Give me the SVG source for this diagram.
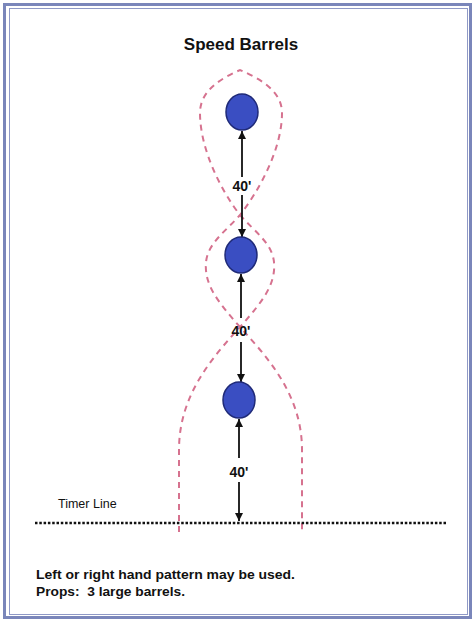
<svg xmlns="http://www.w3.org/2000/svg" width="474" height="621" viewBox="0 0 474 621">
  <style>
    .barrel { fill: #3a4ec2; stroke: #1f2a78; stroke-width: 1.5; }
    .arrow { stroke: #111; stroke-width: 1.8; fill: none; }
    .pattern { stroke: #d6728f; stroke-width: 2; fill: none; stroke-dasharray: 6 5; }
    .lbl { font-family: "Liberation Sans", Arial, sans-serif; font-weight: bold; font-size: 14px; fill: #111; text-anchor: middle; }
    .note { font-family: "Liberation Sans", Arial, sans-serif; font-weight: bold; font-size: 13px; fill: #111; }
  </style>
  <defs>
    <marker id="ah" markerWidth="8" markerHeight="8" refX="8" refY="4" orient="auto-start-reverse" markerUnits="userSpaceOnUse">
      <path d="M0,0 L8,4 L0,8 z" fill="#111"/>
    </marker>
  </defs>
  <rect width="474" height="621" fill="#ffffff"/>
  <g id="frame">
    <rect x="4.5" y="4.5" width="466" height="613" fill="none" stroke="#7a86ba" stroke-width="3"/>
    <rect x="9.5" y="8.5" width="458" height="606" fill="none" stroke="#8f99c6" stroke-width="1"/>
  </g>
  <g id="title">
    <text x="241" y="50" font-family="Liberation Sans, Arial, sans-serif" font-weight="bold" font-size="17" text-anchor="middle" fill="#111">Speed Barrels</text>
  </g>
  <g id="connectors">
    <path class="pattern" d="M179,532 L179,450 C179,395 212,358 240,327 C262,302 276,285 274,262 C272,243 255,232 240,215 C222,192 200,150 200,113 C200,90 222,78 240,70 C258,78 282,90 282,113 C282,150 258,192 240,215 C225,232 208,243 206,262 C204,285 218,302 240,327 C268,358 302,395 302,450 L302,532"/>
    <line class="arrow" x1="242" y1="177" x2="242" y2="131" marker-end="url(#ah)"/>
    <line class="arrow" x1="242" y1="195" x2="242" y2="237" marker-end="url(#ah)"/>
    <line class="arrow" x1="241" y1="318" x2="241" y2="274" marker-end="url(#ah)"/>
    <line class="arrow" x1="241" y1="342" x2="241" y2="382" marker-end="url(#ah)"/>
    <line class="arrow" x1="239" y1="458" x2="239" y2="419" marker-end="url(#ah)"/>
    <line class="arrow" x1="239" y1="482" x2="239" y2="521" marker-end="url(#ah)"/>
  </g>
  <g id="barrel1"><ellipse class="barrel" cx="242" cy="112" rx="16" ry="18"/></g>
  <g id="barrel2"><ellipse class="barrel" cx="241" cy="255" rx="16" ry="18"/></g>
  <g id="barrel3"><ellipse class="barrel" cx="239" cy="400" rx="16" ry="18"/></g>
  <g id="dist1"><text class="lbl" x="242" y="191">40'</text></g>
  <g id="dist2"><text class="lbl" x="241" y="336">40'</text></g>
  <g id="dist3"><text class="lbl" x="239" y="477">40'</text></g>
  <g id="timer-line">
    <line x1="35" y1="523" x2="446" y2="523" stroke="#111" stroke-width="2.5" stroke-dasharray="2.5 1.8"/>
    <text x="58" y="508" font-family="Liberation Sans, Arial, sans-serif" font-size="12.5" fill="#111">Timer Line</text>
  </g>
  <g id="notes">
    <text class="note" x="36" y="579" textLength="259" lengthAdjust="spacingAndGlyphs">Left or right hand pattern may be used.</text>
    <text class="note" x="36" y="596" xml:space="preserve" textLength="149" lengthAdjust="spacingAndGlyphs">Props:  3 large barrels.</text>
  </g>
</svg>
